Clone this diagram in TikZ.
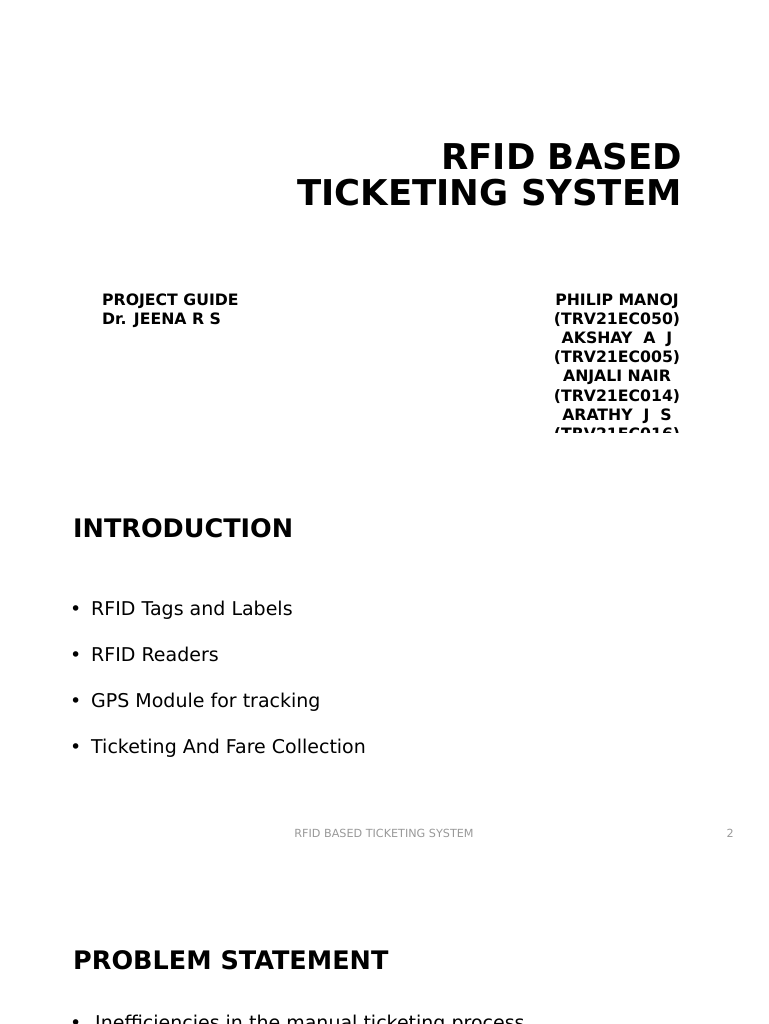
\documentclass[tikz,border=0pt]{standalone}
\usepackage{fontspec}
\setmainfont{DejaVu Sans}
\begin{document}
\begin{tikzpicture}[x=1pt,y=-1pt,
  ttl/.style={font=\bfseries\fontsize{35.5}{36}\selectfont,inner sep=0,align=right},
  hd/.style={font=\bfseries\fontsize{25.5}{28}\selectfont,inner sep=0,anchor=base west},
  sm/.style={font=\bfseries\fontsize{15.7}{19.3}\selectfont,inner sep=0},
  bl/.style={font=\fontsize{19}{20}\selectfont,inner sep=0,anchor=base west},
  ft/.style={font=\fontsize{11.2}{12}\selectfont,text=gray!80,inner sep=0,anchor=base}]
\useasboundingbox (0,0) rectangle (768,1024);
\node[ttl,anchor=base east] (t1) at (682,170) {RFID BASED};
\node[ttl,anchor=base east] (t2) at (682,206) {TICKETING SYSTEM};
\node[sm,anchor=base west] (g1) at (102,305) {PROJECT GUIDE};
\node[sm,anchor=base west] (g2) at (102,324) {Dr. JEENA R S};
\begin{scope}
\clip (0,0) rectangle (768,432);
\foreach \t [count=\i] in {PHILIP MANOJ\ ,(TRV21EC050),AKSHAY\ \ A\ \ J,(TRV21EC005),ANJALI NAIR,(TRV21EC014),ARATHY\ \ J\ \ S,(TRV21EC016)}
  \node[sm,anchor=base] (n\i) at (617,{305+19.2*(\i-1)}) {\t};
\end{scope}
\node[hd] (h1) at (73,537) {INTRODUCTION};
\foreach \t [count=\i] in {RFID Tags and Labels,RFID Readers,GPS Module for tracking,Ticketing And Fare Collection}{
  \node[bl] (b\i) at (91,{615+46*(\i-1)}) {\t};
  \node[bl] (d\i) at (70,{615+46*(\i-1)}) {•};}
\node[ft] (f1) at (384,837) {RFID BASED TICKETING SYSTEM};
\node[ft,anchor=base east] (f2) at (734,837) {2};
\node[hd] (h2) at (73,969) {PROBLEM STATEMENT};
\node[bl] (p1) at (95,1029) {Inefficiencies in the manual ticketing process};
\node[bl] (pd) at (70,1029) {•};
\end{tikzpicture}
\end{document}
